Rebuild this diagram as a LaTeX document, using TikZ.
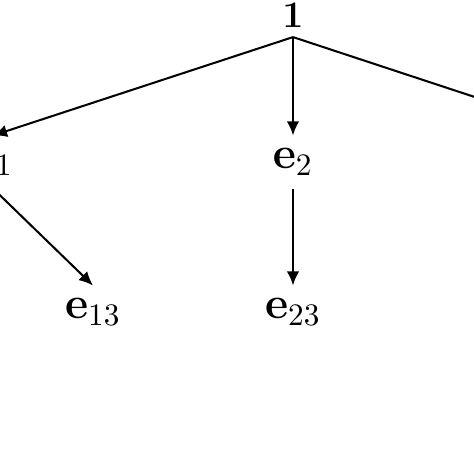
\documentclass[tikz,border=0pt]{standalone}
\usepackage{amsmath,amssymb}
\usepackage{tikz}
\usetikzlibrary{arrows.meta}
\tikzset{
  lbl/.style={
    inner sep=4pt,
    font=\Large
  },
  rootlbl/.style={lbl, font=\large, inner sep=3pt},
  arrow/.style={-{Latex[length=4.5pt,width=4pt]}, line width=0.65pt, draw=black}
}

\begin{document}
\begin{tikzpicture}[x=0.32pt, y=-0.32pt]
        \useasboundingbox (0,0) rectangle (474,474);
        \node[rootlbl] (one) at (293,15) {$\mathbf{1}$};
        \node[lbl] (e1) at (-7,162) {$\mathbf{e}_{1}$};
        \node[lbl] (e2) at (293,162) {$\mathbf{e}_{2}$};
        \coordinate (e3) at (593,136);
        \node[lbl] (e13) at (93,312) {$\mathbf{e}_{13}$};
        \node[lbl] (e23) at (293,312) {$\mathbf{e}_{23}$};
        \draw[arrow] (one.south) -- (e1.north);
        \draw[arrow] (one.south) -- (e2.north);
        \draw[arrow] (one.south) -- (e3);
        \draw[arrow] (e1.south) -- (e13.north);
        \draw[arrow] (e2.south) -- (e23.north);
      \end{tikzpicture}
\end{document}
